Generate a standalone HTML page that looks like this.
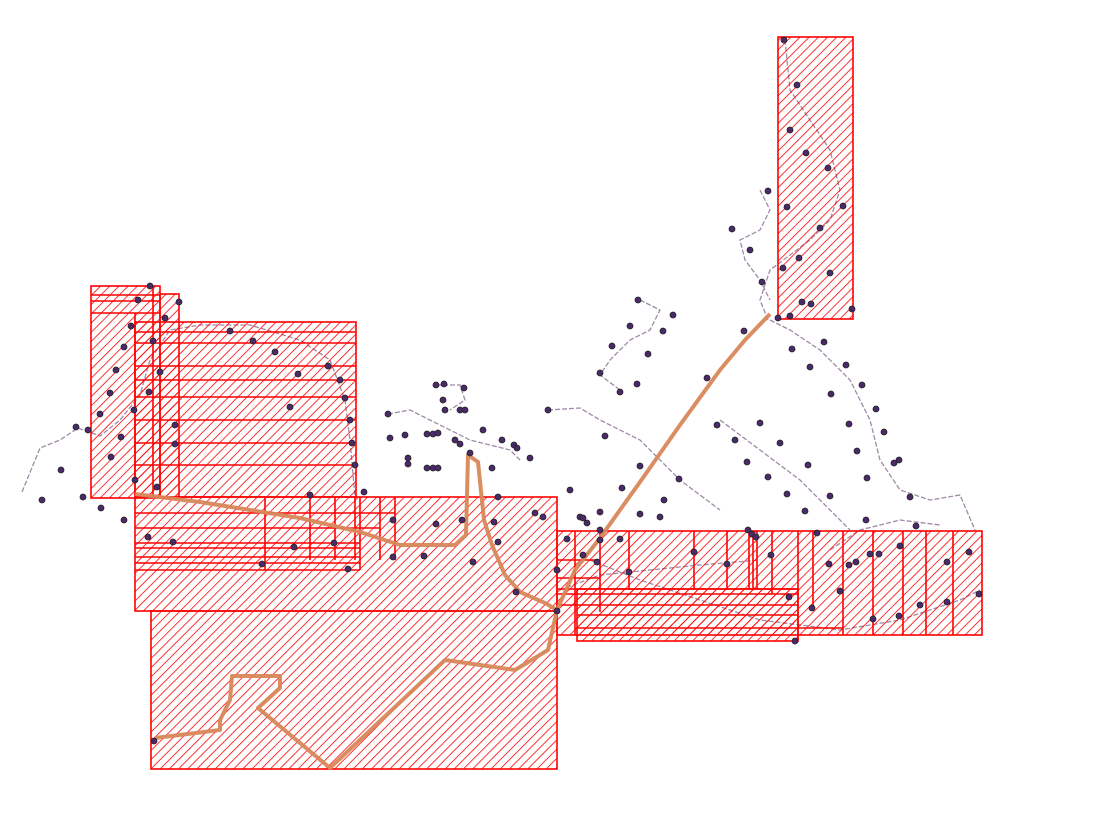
<!DOCTYPE html>
<html><head><meta charset="utf-8"><style>html,body{margin:0;background:#fff}svg{display:block}</style></head>
<body>
<svg width="1110" height="824" viewBox="0 0 1110 824" xmlns="http://www.w3.org/2000/svg">
<defs>
<pattern id="h" patternUnits="userSpaceOnUse" width="6.5" height="6.5" patternTransform="rotate(45)">
<line x1="0" y1="0" x2="0" y2="6.5" stroke="#f00" stroke-width="1.6"/>
</pattern>
</defs>
<g stroke="#a08aa8" stroke-width="1.3" stroke-dasharray="5,2" fill="none">
<polyline points="22,492 40,448 60,440 78,428 100,436 120,420 140,395 150,360 170,330 200,325 250,325 300,340 330,360 345,400 350,440 355,497"/>
<polyline points="770,320 790,330 820,350 850,380 870,420 880,460 900,490 930,500 960,495 975,530"/>
<polyline points="768,320 760,300 770,270 790,255 810,240 830,220 840,190 830,150 810,120 790,90 785,40"/>
<polyline points="760,190 770,210 760,230 740,240 745,260 760,280 770,300"/>
<polyline points="720,420 760,450 800,480 830,510 850,530"/>
<polyline points="640,300 660,310 650,330 630,340 610,360 600,375 620,390"/>
<polyline points="548,410 580,408 600,420 640,440 660,460 680,480 700,495 720,510"/>
<polyline points="388,414 410,410 430,420 450,430 470,440 490,445 510,450 520,460"/>
<polyline points="436,385 460,385 465,400 450,410"/>
<polyline points="590,560 640,580 700,600 760,620 840,630 900,620 960,600 980,590"/>
<polyline points="560,590 600,575 650,570 700,565 760,560"/>
<polyline points="830,550 860,530 900,520 940,525"/>
</g>
<g fill="url(#h)" stroke="#f00" stroke-width="1.6">
<rect x="151" y="611" width="406" height="158"/>
<rect x="135" y="497" width="422" height="114"/>
<rect x="91" y="286" width="69" height="212"/>
<rect x="160" y="294" width="19" height="204"/>
<rect x="135" y="322" width="221" height="175"/>
<rect x="778" y="37" width="75" height="282"/>
<rect x="557" y="531" width="425" height="104"/>
<rect x="577" y="589" width="221" height="52"/>
</g>
<g stroke="#f00" stroke-width="1.6" fill="none">
<path d="M91 295H160M91 301H160M91 313H160M153 286V498M135 313V498"/>
<path d="M135 332H356M135 343H356M135 366H356M135 380H356M135 397H356M135 420H356M135 443H356M135 465H356"/>
<path d="M135 513H395M135 528H380M135 543H360M135 548H360M135 557H360M135 563H360M135 570H360"/>
<path d="M265 497V570M310 497V560M335 497V560M355 497V560M360 497V570M380 497V560M395 497V560"/>
<path d="M575 531V635M600 531V612M629 531V589M694 531V589M727 531V589M749 531V589M753 531V589M757 531V589M772 531V594M798 531V641M813 531V611M843 531V635M873 531V635M903 531V635M926 531V635M953 531V635"/>
<path d="M557 589H798M557 594H798M557 605H798M577 615H798M577 628H843M557 578H600M557 560H600"/>
</g>
<g stroke="#d9875a" stroke-width="4" fill="none" stroke-linejoin="round" opacity="0.95">
<polyline points="135,494 200,502 300,518 360,532 400,545 455,545 466,535 468,455 478,462 484,520 492,545 505,575 520,592 545,603 557,610"/>
<polyline points="557,610 575,570 600,538 640,482 680,425 720,370 745,340 770,314"/>
<polyline points="557,610 548,650 515,670 445,660 330,768 258,708 280,688 280,676 232,676 230,700 220,720 220,730 155,738"/>
</g>
<g fill="#4a2a6a" stroke="#222" stroke-width="0.8">
<circle cx="150" cy="286" r="3"/><circle cx="138" cy="300" r="3"/><circle cx="179" cy="302" r="3"/><circle cx="165" cy="318" r="3"/><circle cx="131" cy="326" r="3"/><circle cx="153" cy="341" r="3"/><circle cx="124" cy="347" r="3"/><circle cx="160" cy="372" r="3"/><circle cx="116" cy="370" r="3"/><circle cx="110" cy="393" r="3"/><circle cx="149" cy="392" r="3"/><circle cx="134" cy="410" r="3"/><circle cx="100" cy="414" r="3"/><circle cx="175" cy="425" r="3"/><circle cx="76" cy="427" r="3"/><circle cx="88" cy="430" r="3"/><circle cx="121" cy="437" r="3"/><circle cx="175" cy="444" r="3"/><circle cx="111" cy="457" r="3"/><circle cx="61" cy="470" r="3"/><circle cx="135" cy="480" r="3"/><circle cx="157" cy="487" r="3"/><circle cx="42" cy="500" r="3"/><circle cx="83" cy="497" r="3"/><circle cx="101" cy="508" r="3"/><circle cx="124" cy="520" r="3"/>
<circle cx="230" cy="331" r="3"/><circle cx="253" cy="341" r="3"/><circle cx="275" cy="352" r="3"/><circle cx="298" cy="374" r="3"/><circle cx="328" cy="366" r="3"/><circle cx="340" cy="380" r="3"/><circle cx="345" cy="398" r="3"/><circle cx="290" cy="407" r="3"/><circle cx="350" cy="420" r="3"/><circle cx="352" cy="443" r="3"/><circle cx="355" cy="465" r="3"/><circle cx="364" cy="492" r="3"/><circle cx="310" cy="495" r="3"/>
<circle cx="148" cy="537" r="3"/><circle cx="173" cy="542" r="3"/><circle cx="294" cy="547" r="3"/><circle cx="334" cy="543" r="3"/><circle cx="262" cy="564" r="3"/><circle cx="348" cy="569" r="3"/><circle cx="393" cy="520" r="3"/><circle cx="393" cy="557" r="3"/><circle cx="424" cy="556" r="3"/><circle cx="436" cy="524" r="3"/><circle cx="462" cy="520" r="3"/><circle cx="473" cy="562" r="3"/><circle cx="494" cy="522" r="3"/><circle cx="498" cy="497" r="3"/><circle cx="498" cy="542" r="3"/><circle cx="516" cy="592" r="3"/><circle cx="535" cy="513" r="3"/><circle cx="543" cy="517" r="3"/><circle cx="154" cy="741" r="3"/><circle cx="557" cy="611" r="3"/>
<circle cx="388" cy="414" r="3"/><circle cx="390" cy="438" r="3"/><circle cx="408" cy="458" r="3"/><circle cx="408" cy="464" r="3"/><circle cx="405" cy="435" r="3"/><circle cx="427" cy="434" r="3"/><circle cx="433" cy="434" r="3"/><circle cx="438" cy="433" r="3"/><circle cx="427" cy="468" r="3"/><circle cx="433" cy="468" r="3"/><circle cx="438" cy="468" r="3"/><circle cx="436" cy="385" r="3"/><circle cx="444" cy="384" r="3"/><circle cx="443" cy="400" r="3"/><circle cx="445" cy="410" r="3"/><circle cx="460" cy="410" r="3"/><circle cx="465" cy="410" r="3"/><circle cx="464" cy="388" r="3"/><circle cx="455" cy="440" r="3"/><circle cx="460" cy="444" r="3"/><circle cx="470" cy="453" r="3"/><circle cx="483" cy="430" r="3"/><circle cx="492" cy="468" r="3"/><circle cx="502" cy="440" r="3"/><circle cx="514" cy="445" r="3"/><circle cx="517" cy="448" r="3"/><circle cx="530" cy="458" r="3"/><circle cx="548" cy="410" r="3"/>
<circle cx="638" cy="300" r="3"/><circle cx="673" cy="315" r="3"/><circle cx="663" cy="331" r="3"/><circle cx="630" cy="326" r="3"/><circle cx="612" cy="346" r="3"/><circle cx="648" cy="354" r="3"/><circle cx="600" cy="373" r="3"/><circle cx="637" cy="384" r="3"/><circle cx="620" cy="392" r="3"/><circle cx="707" cy="378" r="3"/><circle cx="744" cy="331" r="3"/><circle cx="605" cy="436" r="3"/><circle cx="640" cy="466" r="3"/><circle cx="679" cy="479" r="3"/><circle cx="622" cy="488" r="3"/><circle cx="664" cy="500" r="3"/><circle cx="570" cy="490" r="3"/><circle cx="600" cy="512" r="3"/><circle cx="640" cy="514" r="3"/><circle cx="580" cy="517" r="3"/><circle cx="660" cy="517" r="3"/><circle cx="600" cy="540" r="3"/>
<circle cx="717" cy="425" r="3"/><circle cx="735" cy="440" r="3"/><circle cx="760" cy="423" r="3"/><circle cx="780" cy="443" r="3"/><circle cx="747" cy="462" r="3"/><circle cx="768" cy="477" r="3"/><circle cx="787" cy="494" r="3"/><circle cx="805" cy="511" r="3"/><circle cx="830" cy="496" r="3"/><circle cx="808" cy="465" r="3"/><circle cx="810" cy="367" r="3"/><circle cx="824" cy="342" r="3"/><circle cx="846" cy="365" r="3"/><circle cx="862" cy="385" r="3"/><circle cx="831" cy="394" r="3"/><circle cx="876" cy="409" r="3"/><circle cx="849" cy="424" r="3"/><circle cx="884" cy="432" r="3"/><circle cx="857" cy="451" r="3"/><circle cx="894" cy="463" r="3"/><circle cx="899" cy="460" r="3"/><circle cx="867" cy="478" r="3"/><circle cx="910" cy="497" r="3"/><circle cx="866" cy="520" r="3"/><circle cx="916" cy="526" r="3"/><circle cx="792" cy="349" r="3"/>
<circle cx="784" cy="40" r="3"/><circle cx="797" cy="85" r="3"/><circle cx="790" cy="130" r="3"/><circle cx="806" cy="153" r="3"/><circle cx="828" cy="168" r="3"/><circle cx="768" cy="191" r="3"/><circle cx="787" cy="207" r="3"/><circle cx="843" cy="206" r="3"/><circle cx="732" cy="229" r="3"/><circle cx="820" cy="228" r="3"/><circle cx="750" cy="250" r="3"/><circle cx="799" cy="258" r="3"/><circle cx="783" cy="268" r="3"/><circle cx="830" cy="273" r="3"/><circle cx="762" cy="282" r="3"/><circle cx="802" cy="302" r="3"/><circle cx="811" cy="304" r="3"/><circle cx="852" cy="309" r="3"/><circle cx="778" cy="318" r="3"/><circle cx="790" cy="316" r="3"/>
<circle cx="567" cy="539" r="3"/><circle cx="583" cy="518" r="3"/><circle cx="587" cy="523" r="3"/><circle cx="600" cy="530" r="3"/><circle cx="557" cy="570" r="3"/><circle cx="583" cy="555" r="3"/><circle cx="597" cy="562" r="3"/><circle cx="620" cy="539" r="3"/><circle cx="629" cy="572" r="3"/><circle cx="694" cy="552" r="3"/><circle cx="727" cy="564" r="3"/><circle cx="748" cy="530" r="3"/><circle cx="752" cy="534" r="3"/><circle cx="756" cy="537" r="3"/><circle cx="771" cy="555" r="3"/><circle cx="789" cy="597" r="3"/><circle cx="812" cy="608" r="3"/><circle cx="817" cy="533" r="3"/><circle cx="829" cy="564" r="3"/><circle cx="840" cy="591" r="3"/><circle cx="849" cy="565" r="3"/><circle cx="856" cy="562" r="3"/><circle cx="870" cy="554" r="3"/><circle cx="879" cy="554" r="3"/><circle cx="873" cy="619" r="3"/><circle cx="900" cy="546" r="3"/><circle cx="899" cy="616" r="3"/><circle cx="920" cy="605" r="3"/><circle cx="947" cy="602" r="3"/><circle cx="969" cy="552" r="3"/><circle cx="979" cy="594" r="3"/><circle cx="795" cy="641" r="3"/><circle cx="947" cy="562" r="3"/>
</g>
</svg>
</body></html>
